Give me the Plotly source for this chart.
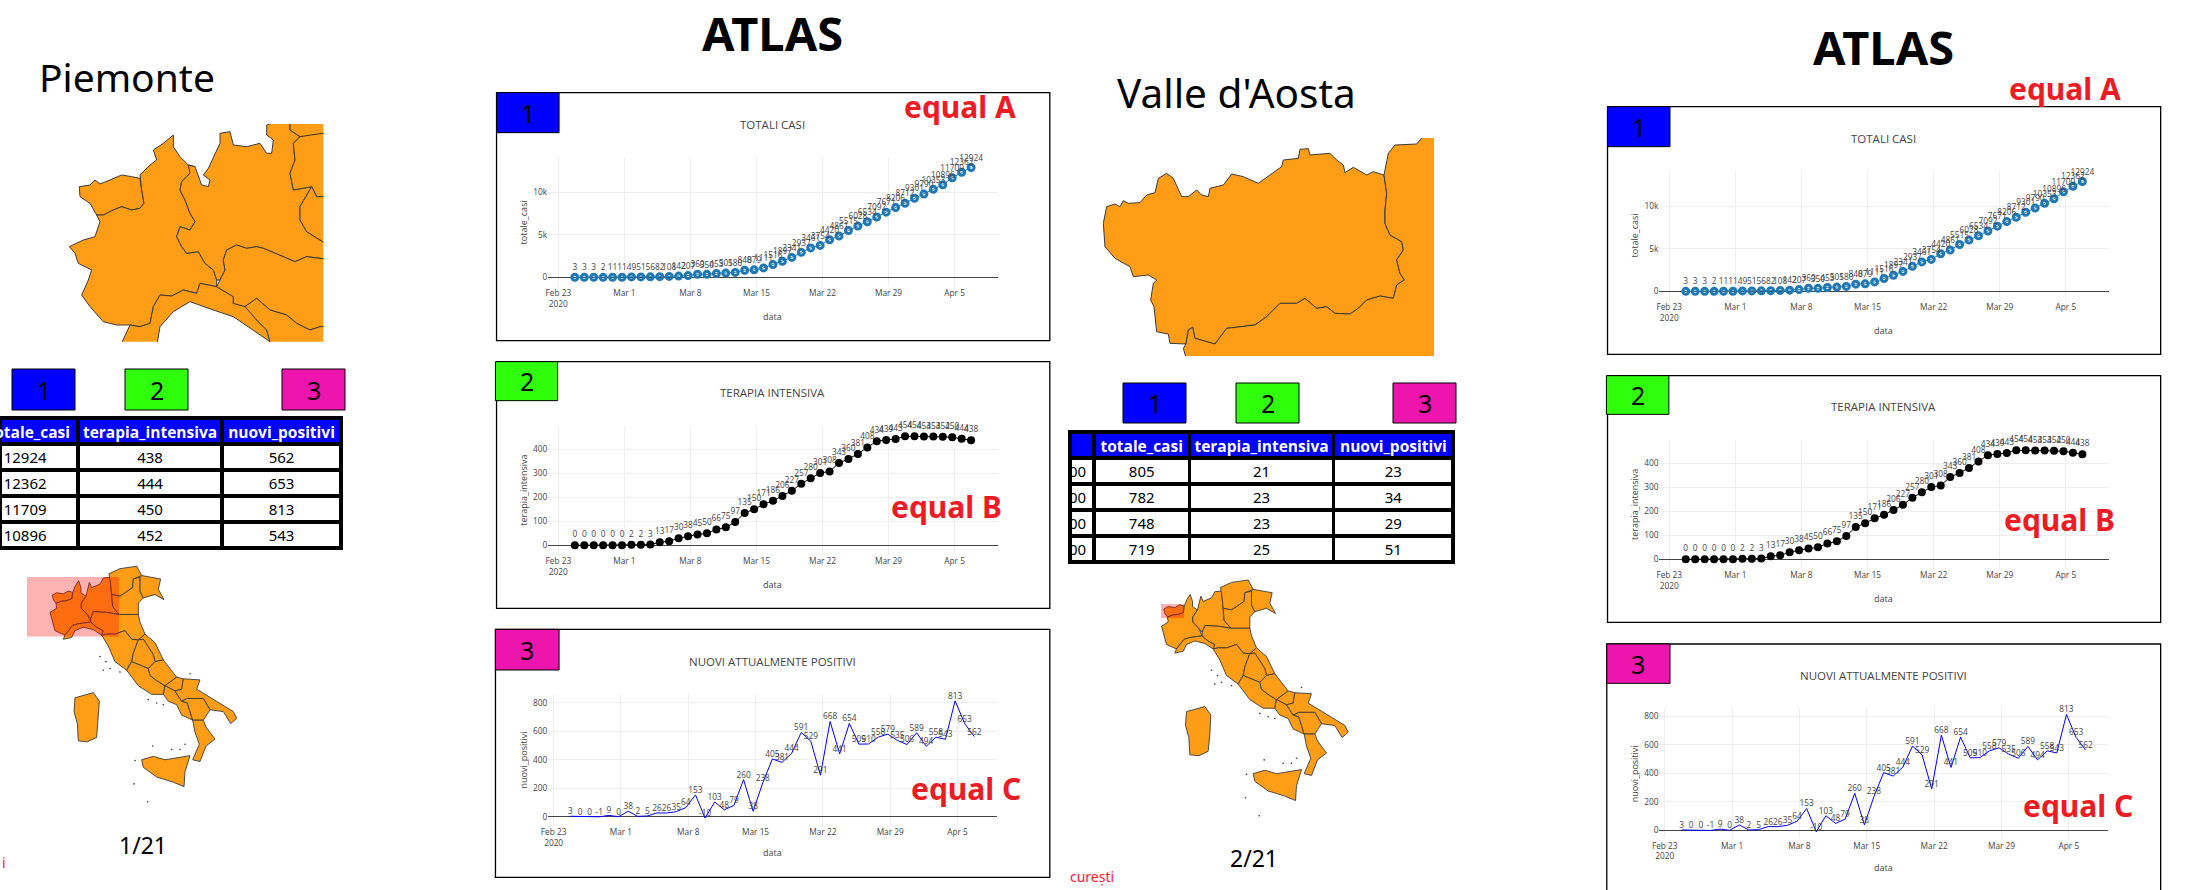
import plotly.graph_objects as go
from datetime import datetime, timedelta

W, H = 2192, 890

# ------------------------- data -------------------------
dates = [(datetime(2020, 2, 24, 18) + timedelta(days=i)).strftime("%Y-%m-%d %H:%M") for i in range(43)]
totale_casi = [3, 3, 3, 2, 11, 11, 49, 51, 56, 82, 108, 142, 207, 360, 350, 453, 501, 580, 840, 879, 1111,
               1516, 1897, 2341, 2937, 3461, 3754, 4420, 4861, 5515, 6028, 6534, 7092, 7671, 8206, 8712,
               9301, 9790, 10353, 10896, 11709, 12362, 12924]
terapia_intensiva = [0, 0, 0, 0, 0, 0, 2, 2, 3, 13, 17, 30, 38, 45, 50, 66, 75, 97, 135, 150, 171, 186, 206,
                     227, 257, 280, 301, 308, 343, 360, 381, 408, 434, 439, 443, 454, 454, 453, 453, 452,
                     450, 444, 438]
nuovi_positivi = [3, 0, 0, -1, 9, 0, 38, 2, 5, 26, 26, 35, 64, 153, -10, 103, 48, 79, 260, 38, 238, 405, 381,
                  444, 591, 529, 291, 668, 441, 654, 509, 510, 558, 579, 535, 506, 589, 494, 558, 543, 813,
                  653, 562]

table_headers = ["totale_casi", "terapia_intensiva", "nuovi_positivi"]
piemonte_casi = [12924, 12362, 11709, 10896]
piemonte_terapia = [438, 444, 450, 452]
piemonte_nuovi = [562, 653, 813, 543]
aosta_dates = ["2020-04-06\u00a018:00:00", "2020-04-05\u00a018:00:00", "2020-04-04\u00a018:00:00", "2020-04-03\u00a018:00:00"]
aosta_casi = [805, 782, 748, 719]
aosta_terapia = [21, 23, 23, 25]
aosta_nuovi = [23, 34, 29, 51]

# outline of Italy, one polygon per region (in map units)
italy_regions = {
    "Valle d'Aosta": [(157,712),(170,705),(190,708),(205,700),(218,704),(216,722),(200,728),(182,730),(168,736),(160,725)],
    "Piemonte": [(218,704),(226,685),(236,670),(243,690),(243,705),(258,715),(244,735),(244,750),(262,768),(272,790),(258,792),(235,795),(218,800),(195,828),(165,815),(158,790),(150,762),(170,750),(168,736),(182,730),(200,728),(216,722)],
    "Liguria": [(272,790),(290,805),(310,815),(305,828),(280,812),(250,805),(225,815),(215,835),(190,840),(195,828),(218,800),(235,795),(258,792)],
    "Lombardia": [(258,715),(268,675),(275,690),(300,680),(310,662),(330,660),(332,680),(335,710),(338,745),(358,768),(320,762),(280,760),(272,780),(262,768),(244,750),(244,735)],
    "Trentino": [(327,650),(360,635),(410,628),(425,655),(400,665),(398,690),(360,715),(335,710),(332,680),(330,660)],
    "Veneto": [(335,710),(360,715),(398,690),(400,665),(420,660),(420,700),(430,720),(415,735),(415,768),(358,768),(338,745)],
    "Friuli": [(425,655),(482,665),(475,695),(492,725),(465,710),(430,720),(420,700),(420,660)],
    "Emilia-Romagna": [(272,780),(280,760),(320,762),(358,768),(415,768),(420,790),(435,825),(415,842),(395,840),(375,815),(345,825),(320,825),(305,828),(310,815),(290,805),(272,790)],
    "Toscana": [(305,828),(320,825),(345,825),(375,815),(395,840),(415,842),(400,880),(395,905),(380,930),(345,905),(325,860)],
    "Marche": [(415,842),(435,825),(465,850),(490,900),(465,905),(460,885),(430,840)],
    "Umbria": [(415,842),(430,840),(460,885),(465,905),(445,925),(395,905),(400,880)],
    "Lazio": [(395,905),(445,925),(450,945),(470,960),(495,975),(490,1000),(455,1000),(415,975),(380,930)],
    "Abruzzo": [(465,905),(490,900),(530,950),(510,965),(495,975),(470,960),(450,945),(445,925)],
    "Molise": [(530,950),(550,955),(545,985),(525,990),(495,975),(510,965)],
    "Campania": [(490,1000),(495,975),(525,990),(545,1020),(562,1025),(578,1075),(545,1060),(530,1030),(505,1020)],
    "Puglia": [(550,955),(600,958),(590,985),(650,1020),(700,1050),(710,1070),(692,1085),(670,1050),(630,1045),(610,1012),(562,1012),(545,1020),(525,990),(545,985)],
    "Basilicata": [(562,1012),(610,1012),(630,1045),(610,1075),(578,1075),(562,1025),(545,1020)],
    "Calabria": [(578,1075),(610,1075),(618,1095),(645,1130),(618,1150),(600,1195),(578,1190),(598,1145),(585,1110)],
    "Sicilia": [(425,1190),(460,1180),(495,1190),(570,1178),(555,1225),(552,1268),(520,1255),(470,1240),(430,1212)],
    "Sardegna": [(225,1010),(280,995),(298,1020),(295,1075),(290,1125),(262,1138),(235,1135),(232,1085),(222,1050)],
}
italy_islets = [(300,890),(318,905),(330,925),(360,935),(310,930),(445,1015),(470,1025),(515,1160),(540,1160),
                (555,1145),(458,1150),(402,1260),(443,1312),(405,1192),(490,1030),(570,940)]

# close-up of north-west Italy (in map units)
northwest_regions = {
    "Valle d'Aosta": [(238,440),(270,435),(285,420),(300,432),(330,420),(365,405),(395,410),(420,415),(425,450),(432,490),(420,505),(395,510),(365,500),(340,510),(310,525),(290,525),(270,490),(240,470)],
    "Piemonte": [(420,405),(450,375),(470,360),(460,330),(490,310),(520,285),(520,320),(540,350),(565,375),(585,380),(570,400),(545,425),(540,450),(555,480),(570,520),(585,545),(570,570),(540,560),(530,590),(545,620),(560,640),(595,635),(615,670),(640,690),(650,720),(650,740),(625,735),(600,730),(590,760),(550,750),(515,768),(480,765),(460,800),(450,850),(420,860),(390,855),(350,855),(310,845),(270,800),(245,765),(265,720),(275,690),(235,670),(225,640),(208,620),(250,600),(285,590),(300,545),(290,525),(310,525),(340,510),(365,500),(395,510),(420,505),(432,490),(425,450)],
    "Liguria": [(650,740),(700,770),(700,790),(740,800),(770,840),(800,870),(810,905),(760,870),(700,830),(640,810),(570,785),(520,815),(480,860),(470,920),(360,920),(390,855),(420,860),(450,850),(460,800),(480,765),(515,768),(550,750),(590,760),(600,730),(625,735)],
    "Lombardia": [(565,375),(585,380),(605,435),(625,440),(630,420),(610,405),(625,385),(660,310),(660,280),(690,275),(700,315),(740,320),(780,310),(800,340),(815,340),(820,300),(800,285),(800,255),(830,245),(870,245),(870,270),(900,290),(880,310),(885,360),(870,400),(880,450),(935,440),(900,500),(900,540),(920,575),(1000,625),(1000,660),(920,650),(885,665),(850,650),(790,625),(770,620),(740,625),(710,615),(680,630),(670,660),(675,690),(660,720),(650,720),(640,690),(615,670),(595,635),(560,640),(545,620),(530,590),(540,560),(570,570),(585,545),(570,520),(555,480),(540,450),(545,425),(570,400)],
    "Trentino": [(870,245),(1000,245),(1000,275),(930,290),(900,290),(870,270)],
    "Veneto": [(900,290),(1000,275),(1000,470),(950,470),(935,440),(880,450),(870,400),(885,360),(880,310)],
    "Veneto sud": [(935,440),(950,470),(1000,470),(1000,625),(920,575),(900,540),(900,500)],
    "Emilia-Romagna": [(650,740),(660,720),(675,690),(670,660),(680,630),(710,615),(740,625),(770,620),(790,625),(850,650),(885,665),(920,650),(1000,660),(1000,860),(960,860),(930,870),(890,850),(860,825),(810,810),(770,775),(735,800),(700,790),(700,770)],
    "Toscana": [(735,800),(770,775),(810,810),(860,825),(890,850),(930,870),(960,860),(1000,860),(1000,920),(825,920),(810,905),(800,870),(770,840)],
}

# close-up of Valle d'Aosta (in map units)
aosta_regions = {
    "Valle d'Aosta": [(140,470),(165,462),(180,470),(190,452),(205,460),(240,458),(260,435),(285,428),(295,385),(320,370),(340,385),(365,440),(385,440),(410,420),(425,435),(445,440),(450,415),(490,405),(515,372),(550,380),(595,400),(635,370),(665,350),(670,330),(715,325),(720,298),(745,296),(750,315),(810,310),(830,330),(850,345),(855,368),(880,352),(920,375),(940,365),(972,375),(980,430),(975,480),(975,520),(990,555),(1025,575),(1030,600),(1010,630),(1020,670),(1033,690),(1010,705),(1000,745),(960,738),(920,750),(895,775),(870,792),(825,790),(800,770),(770,775),(735,745),(710,760),(660,760),(620,800),(585,825),(500,835),(465,882),(405,865),(398,832),(385,840),(378,882),(330,880),(325,852),(290,845),(282,770),(272,750),(280,700),(290,690),(265,675),(220,680),(210,650),(165,625),(135,590),(130,520)],
    "Piemonte": [(972,375),(985,310),(1005,285),(1070,282),(1085,264),(1140,250),(1140,930),(380,930),(370,895),(378,882),(385,840),(398,832),(405,865),(465,882),(500,835),(585,825),(620,800),(660,760),(710,760),(735,745),(770,775),(800,770),(825,790),(870,792),(895,775),(920,750),(960,738),(1000,745),(1010,705),(1033,690),(1020,670),(1010,630),(1030,600),(1025,575),(990,555),(975,520),(975,480),(980,430)],
}

# ------------------------- styling -------------------------
ORANGE = "#ff9d17"
BLUE, GREEN, MAGENTA = "#0000ff", "#2fff0b", "#ee15ae"
RED = "#ed1c24"
INK = "#444444"
HEAD_FONT = "Noto Sans"
CHART_FONT = "Open Sans"

fig = go.Figure()
shapes, annotations, layout_axes = [], [], {}
axis_no = [0]


def fx(px):
    return px / W


def fy(py):
    return 1 - py / H


def add_text(x, y, text, size, color="black", font=HEAD_FONT, bold=False, angle=0, xanchor="center"):
    annotations.append(dict(x=fx(x), y=fy(y), xref="paper", yref="paper", text=f"<b>{text}</b>" if bold else text,
                            showarrow=False, xanchor=xanchor, yanchor="middle", textangle=angle,
                            font=dict(family=font, size=size, color=color)))


def add_rect(x0, y0, x1, y1, fill=None, line="black", width=1):
    shapes.append(dict(type="rect", xref="paper", yref="paper", x0=fx(x0), x1=fx(x1), y0=fy(y0), y1=fy(y1),
                       fillcolor=fill or "rgba(0,0,0,0)", line=dict(color=line, width=width), layer="above"))


def new_axes(left, right, top, bottom, xdict, ydict):
    axis_no[0] += 1
    n = axis_no[0]
    s = "" if n == 1 else str(n)
    layout_axes["xaxis" + s] = dict(domain=[fx(left), fx(right)], anchor="y" + s, **xdict)
    layout_axes["yaxis" + s] = dict(domain=[fy(bottom), fy(top)], anchor="x" + s, **ydict)
    return "x" + s, "y" + s


def badge(x0, y0, x1, y1, fill, label):
    add_rect(x0, y0, x1, y1, fill=fill, width=1)
    add_text((x0 + x1) / 2, (y0 + y1) / 2, label, 25, font=HEAD_FONT)


def chart(ox, oy, sc, frame, box, box_fill, label, title, title_y, tick_a, tick_b, y0, yref_px, yref_val,
          plot, xlabel_y, ylabel_name, dtick, values, style, eq_text, eq_xy, title_x=778, ylabel_x=92):
    """All pixel arguments are crop coordinates relative to (ox, oy): x scale sc, y scale 3."""
    X = lambda v: ox + v / sc
    Y = lambda v: oy + v / 3
    add_rect(X(frame[0]), Y(frame[1]), X(frame[2]), Y(frame[3]), width=1.3)
    left, right, top, bottom = plot
    day = (tick_b - tick_a) / 42
    base = datetime(2020, 2, 23)
    x_lo = base + timedelta(days=(left - tick_a) / day)
    x_hi = base + timedelta(days=(right - tick_a) / day)
    per = yref_val / (y0 - yref_px)
    y_lo = (y0 - bottom) * per
    y_hi = (y0 - top) * per
    xa, ya = new_axes(X(left), X(right), Y(top), Y(bottom),
                      dict(type="date", range=[x_lo.strftime("%Y-%m-%d %H:%M"), x_hi.strftime("%Y-%m-%d %H:%M")],
                           tick0="2020-02-23", dtick=7 * 86400000, showgrid=True, gridcolor="#eeeeee", gridwidth=1,
                           zeroline=False, showline=False, ticks="",
                           tickfont=dict(family=CHART_FONT, size=8.3, color=INK)),
                      dict(range=[y_lo, y_hi], dtick=dtick, showgrid=True, gridcolor="#eeeeee", gridwidth=1,
                           zeroline=True, zerolinecolor=INK, zerolinewidth=1, showline=False, ticks="",
                           tickfont=dict(family=CHART_FONT, size=8.3, color=INK)))
    fig.add_trace(go.Scatter(x=dates, y=values, text=[str(v) for v in values], textposition="top center",
                             textfont=dict(family=CHART_FONT, size=8.3, color=INK), xaxis=xa, yaxis=ya,
                             cliponaxis=False, showlegend=False, **style))
    badge(X(box[0]), Y(box[1]), X(box[2]), Y(box[3]), box_fill, label)
    add_text(X(title_x), Y(title_y), title, 11.5, color=INK, font=CHART_FONT)
    add_text(X(title_x), Y(xlabel_y), "data", 9, color=INK, font=CHART_FONT)
    add_text(X(ylabel_x), Y((top + bottom) / 2), ylabel_name, 9, color=INK, font=CHART_FONT, angle=-90)
    add_text(X(eq_xy[0]), Y(eq_xy[1]), eq_text, 30, color=RED, bold=True)


style_casi = dict(mode="lines+markers+text", line=dict(color="#1f77b4", width=1),
                  marker=dict(symbol="circle-open", size=6, color="#1f77b4", line=dict(color="#1f77b4", width=3)))
style_tera = dict(mode="lines+markers+text", line=dict(color="black", width=1),
                  marker=dict(symbol="circle", size=8, color="black"))
style_nuovi = dict(mode="lines+text", line=dict(color="blue", width=1))

S1 = 1568 / 570   # horizontal scale of the left column crops
S2 = 1568 / 590   # horizontal scale of the right column crops

# left set of charts
chart(490, 80, S1, (18, 38, 1540, 782), (18, 38, 190, 158), BLUE, "1", "TOTALI CASI", 133, 188, 1278, 592, 337, 10000,
      (160, 1397, 232, 620), 708, "totale_casi", 5000, totale_casi, style_casi, "equal A", (1292, 80))
chart(490, 350, S1, (18, 35, 1540, 775), (15, 35, 186, 152), GREEN, "2", "TERAPIA INTENSIVA", 127, 188, 1278, 586, 298, 400,
      (160, 1397, 228, 614), 702, "terapia_intensiva", 100, terapia_intensiva, style_tera, "equal B", (1255, 470))
chart(490, 620, S1, (15, 28, 1540, 772), (15, 28, 190, 150), MAGENTA, "3", "NUOVI ATTUALMENTE POSITIVI", 124, 175, 1286, 590, 248, 800,
      (160, 1395, 222, 618), 698, "nuovi_positivi", 200, nuovi_positivi, style_nuovi, "equal C", (1310, 505))

# right set of charts
chart(1600, 20, S2, (20, 260, 1490, 1003), (20, 260, 186, 380), BLUE, "1", "TOTALI CASI", 355, 184, 1238, 814, 559, 10000,
      (158, 1353, 453, 842), 930, "totale_casi", 5000, totale_casi, style_casi, "equal A", (1235, 205), title_x=754)
chart(1600, 360, S2, (20, 47, 1490, 787), (17, 47, 183, 163), GREEN, "2", "TERAPIA INTENSIVA", 138, 184, 1238, 598, 310, 400,
      (158, 1353, 240, 626), 714, "terapia_intensiva", 100, terapia_intensiva, style_tera, "equal B", (1220, 477), title_x=754)
chart(1600, 630, S2, (18, 42, 1490, 800), (18, 42, 186, 160), MAGENTA, "3", "NUOVI ATTUALMENTE POSITIVI", 136, 172, 1246, 601, 259, 800,
      (158, 1350, 234, 628), 711, "nuovi_positivi", 200, nuovi_positivi, style_nuovi, "equal C", (1270, 525), title_x=753)


# ------------------------- maps -------------------------
def hidden(rng):
    return dict(range=rng, visible=False, showgrid=False, zeroline=False)


def draw_regions(regions, xa, ya, width):
    for name, pts in regions.items():
        fig.add_trace(go.Scatter(x=[p[0] for p in pts] + [pts[0][0]], y=[p[1] for p in pts] + [pts[0][1]],
                                 mode="lines", fill="toself", fillcolor=ORANGE, name=name, hoverinfo="name",
                                 line=dict(color="#3a3a3a", width=width), xaxis=xa, yaxis=ya, showlegend=False))


def italy_map(left, right, top, bottom, xr, yr, highlight):
    xa, ya = new_axes(left, right, top, bottom, hidden(xr), hidden(yr))
    draw_regions(italy_regions, xa, ya, 0.9)
    fig.add_trace(go.Scatter(x=[p[0] for p in italy_islets], y=[p[1] for p in italy_islets], mode="markers",
                             marker=dict(size=1.6, color="#333333"), xaxis=xa, yaxis=ya, showlegend=False,
                             hoverinfo="skip"))
    shapes.append(dict(type="rect", xref=xa, yref=ya, x0=highlight[0], y0=highlight[1], x1=highlight[2], y1=highlight[3],
                       fillcolor="rgba(255,0,0,0.30)", line=dict(width=0), layer="above"))


# Italy, first page: x px = u/3, y px = 350 + v/2.904
italy_map(20, 250, 550, 820, [60, 750], [(820 - 350) * 2.904, (550 - 350) * 2.904], (81, 659, 357, 832))
# Italy, second page
italy_map(1060 + 154.5 / 3 + 20, 1060 + 154.5 / 3 + 250, 570, 820,
          [60, 750], [628 + (820 - 370 - 630 / 3) * 3 / 1.034, 628 + (570 - 370 - 630 / 3) * 3 / 1.034],
          (303 - 154.5, 628 + (702 - 630) / 1.034, 372 - 154.5, 628 + (744 - 630) / 1.034))

# close-ups: north-west (x px = u/3, y px = 40 + v/3); Aosta (x px = 1060 + u/3, y px = 50 + v/3)
xa, ya = new_axes(205 / 3, 970 / 3, 40 + 252 / 3, 40 + 905 / 3, hidden([205, 970]), hidden([905, 252]))
draw_regions(northwest_regions, xa, ya, 1)
xa, ya = new_axes(1060 + 125 / 3, 1060 + 1122 / 3, 50 + 264 / 3, 50 + 918 / 3, hidden([125, 1122]), hidden([918, 264]))
draw_regions(aosta_regions, xa, ya, 1)

# ------------------------- tables -------------------------
TABLE_LINE = dict(color="black", width=3.5)
HEAD_STYLE = dict(fill_color=BLUE, line=TABLE_LINE, height=26,
                  font=dict(family="Open Sans", size=15.5, color="white", weight="bold"))
CELL_STYLE = dict(fill_color="white", line=TABLE_LINE, height=26,
                  font=dict(family=HEAD_FONT, size=15, color="black"))

fig.add_trace(go.Table(
    domain=dict(x=[0, fx(341)], y=[fy(556), fy(418)]),
    columnwidth=[78, 144, 119],
    header=dict(values=table_headers, align=["right", "center", "center"], **HEAD_STYLE),
    cells=dict(values=[piemonte_casi, piemonte_terapia, piemonte_nuovi], align=["right", "center", "center"],
               suffix=["\u00a0" * 6, "", ""], **CELL_STYLE)))
fig.add_trace(go.Table(
    domain=dict(x=[fx(1070), fx(1453)], y=[fy(570), fy(432)]),
    columnwidth=[24, 95, 144, 119],
    header=dict(values=[""] + table_headers, align="center", **HEAD_STYLE),
    cells=dict(values=[aosta_dates, aosta_casi, aosta_terapia, aosta_nuovi], align=["right", "center", "center", "center"],
               **CELL_STYLE)))

# ------------------------- headings and loose labels -------------------------
add_text(127, 77, "Piemonte", 39)
add_text(1236, 92, "Valle d'Aosta", 40.5)
add_text(772, 33, "ATLAS", 47, bold=True)
add_text(1883, 47, "ATLAS", 47, bold=True)
add_text(143, 845, "1/21", 23)
add_text(1254, 858, "2/21", 23)
add_text(1092, 876, "curești", 14, color="#ff1a2e")
add_text(0, 862, "i", 14, color="#ff1a2e", xanchor="left")

for (x0, y0, x1, y1, c, t) in [(12, 369, 75, 410, BLUE, "1"), (125, 369, 188, 410, GREEN, "2"), (282, 369, 345, 410, MAGENTA, "3"),
                               (1123, 383, 1186, 423, BLUE, "1"), (1236, 383, 1299, 423, GREEN, "2"), (1393, 383, 1456, 423, MAGENTA, "3")]:
    badge(x0, y0, x1, y1, c, t)

fig.update_layout(width=W, height=H, margin=dict(l=0, r=0, t=0, b=0, autoexpand=False), autosize=False,
                  paper_bgcolor="white", plot_bgcolor="white", showlegend=False, shapes=shapes,
                  annotations=annotations, **layout_axes)

fig.write_html("out.html", config={"displayModeBar": False},
               post_script="document.body.style.margin='0';document.documentElement.style.overflow='hidden';")
